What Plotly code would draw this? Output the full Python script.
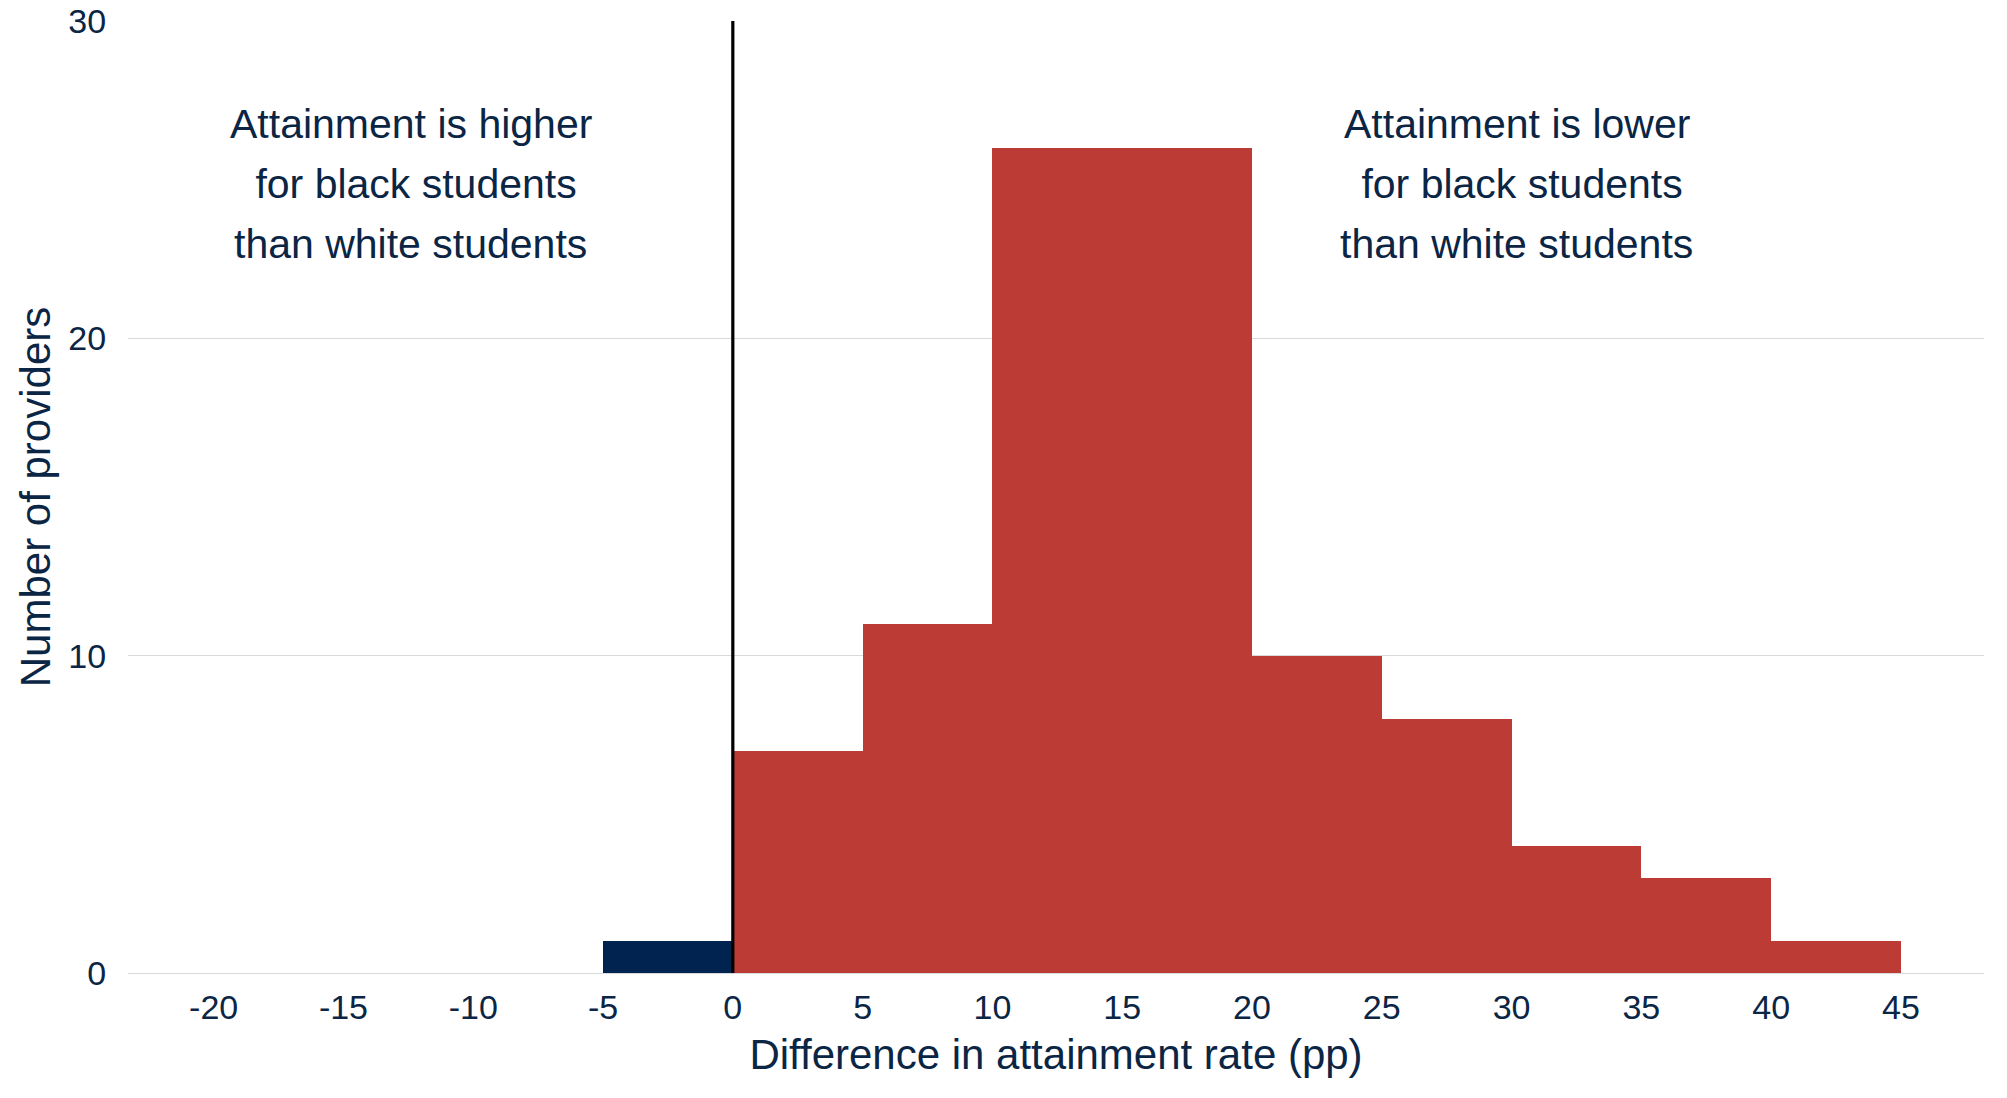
import plotly.graph_objects as go

# histogram bins (pp difference, lower edge) and number of providers in each
bin_starts = [-5, 0, 5, 10, 15, 20, 25, 30, 35, 40]
providers = [1, 7, 11, 26, 26, 10, 8, 4, 3, 1]
bin_width = 5

x_ticks = [-20, -15, -10, -5, 0, 5, 10, 15, 20, 25, 30, 35, 40, 45]

left_note = ["Attainment is higher", " for black students", "than white students"]
right_note = ["Attainment is lower", " for black students", "than white students"]

navy = "#00244f"
red = "#bd3b35"
text_col = "#0b2545"

bar_colors = [navy if b < 0 else red for b in bin_starts]
centers = [b + bin_width / 2 for b in bin_starts]

fig = go.Figure(go.Bar(
    x=centers,
    y=providers,
    width=bin_width,
    marker=dict(color=bar_colors, line=dict(width=0)),
    hoverinfo="y",
))

# vertical line at zero difference
fig.add_shape(type="line", x0=0, x1=0, y0=0, y1=30, xref="x", yref="y",
              line=dict(color="black", width=3.2))

# one annotation per line so the line spacing matches the original
line_y = [26.77, 24.87, 22.97]
for xc, lines in [(-12.4, left_note), (30.2, right_note)]:
    for yy, txt in zip(line_y, lines):
        fig.add_annotation(x=xc, y=yy, xref="x", yref="y", showarrow=False,
                           text=txt, align="center",
                           font=dict(size=41, color=text_col))

fig.update_layout(
    width=2007, height=1098,
    margin=dict(l=120, r=31, t=13, b=133),
    plot_bgcolor="white", paper_bgcolor="white",
    font=dict(family="Liberation Sans, Arial", color=text_col),
    showlegend=False,
    bargap=0,
)
fig.update_xaxes(
    range=[-23.3, 48.2], tickvals=x_ticks, ticktext=[str(t) for t in x_ticks],
    showgrid=False, zeroline=False, showline=False, automargin=False,
    tickfont=dict(size=34, color=text_col), ticks="outside", ticklen=4, tickcolor="rgba(0,0,0,0)",
    title=dict(text="Difference in attainment rate (pp)", font=dict(size=42, color=text_col), standoff=14),
)
fig.update_yaxes(
    range=[0, 30], tickvals=[0, 10, 20, 30],
    showgrid=True, gridcolor="#d9d9d9", gridwidth=1.3,
    zeroline=True, zerolinecolor="#d9d9d9", zerolinewidth=1.3, showline=False, automargin=False,
    tickfont=dict(size=34, color=text_col), ticks="outside", ticklen=14, tickcolor="rgba(0,0,0,0)",
    ticklabeloverflow="allow",
    title=dict(text="Number of providers", font=dict(size=42, color=text_col), standoff=4),
)

fig.write_html("out.html")
